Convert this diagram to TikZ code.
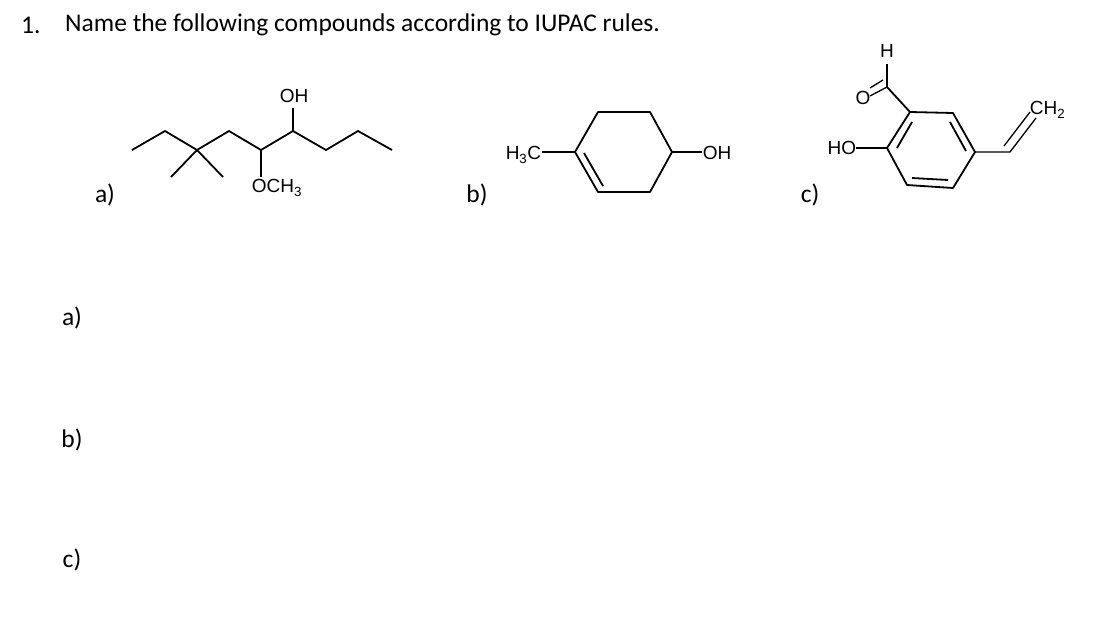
\documentclass[tikz,border=0pt]{standalone}
\usepackage{fontspec}
\setmainfont{Carlito}
\newfontfamily\chem{Liberation Sans}
\begin{document}
\begin{tikzpicture}[x=1pt,y=-1pt,line width=1.8pt,line join=round,
 lab/.style={font=\fontsize{25.5}{30}\selectfont},
 atom/.style={font=\chem\fontsize{19}{22}\selectfont,inner sep=1pt}]
\useasboundingbox (0,0) rectangle (1110,616);
\node[lab,anchor=west] (n1) at (17,25) {1.};
\node[lab,anchor=west] (t) at (61,25) {Name the following compounds according to IUPAC rules.};
% molecule a
\draw (132,150) -- (165,131) -- (197,150) -- (229,131) -- (261,150) -- (293,131) -- (326,150) -- (358,131) -- (392,150);
\draw (197,150) -- (171,177);
\draw (197,150) -- (223,177);
\draw (261,150) -- (261,177);
\draw (293,131) -- (293,108);
\node[atom] (oh1) at (294,96) {OH};
\node[atom,anchor=west] (och) at (250,188) {OCH\textsubscript{3}};
\node[lab] (la) at (105,195) {a)};
% molecule b
\draw (575,152) -- (598,112) -- (650,112) -- (672,152) -- (650,192) -- (598,192) -- cycle;
\draw (584,153) -- (603,186);
\draw (542,152) -- (575,152);
\draw (672,152) -- (702,152);
\node[atom,anchor=east] (h3c) at (543,155) {H\textsubscript{3}C};
\node[atom,anchor=west] (oh2) at (701,153) {OH};
\node[lab] (lb) at (477,195) {b)};
% molecule c
\draw (910,112) -- (953,113) -- (975,152) -- (953,188) -- (907,185) -- (887,148) -- cycle;
\draw (912,122) -- (897,148);
\draw (950,122) -- (966,151);
\draw (912,178) -- (948,180);
\draw (910,112) -- (887,87) -- (887,64);
\draw[line width=1.3pt] (887,87) -- (870,96);
\draw[line width=1.3pt] (883,80) -- (870,88);
\node[atom] (o) at (863,98) {O};
\node[atom] (h) at (887,51) {H};
\draw (856,148) -- (887,148);
\node[atom,anchor=east] (ho) at (858,148) {HO};
\draw[line width=1.3pt] (975,152) -- (1010,152) -- (1036,118);
\draw[line width=1.3pt] (1004,146) -- (1030,112);
\node[atom,anchor=west] (ch2) at (1028,110) {CH\textsubscript{2}};
\node[lab] (lc) at (810,195) {c)};
% answer labels
\node[lab] (aa) at (72,318) {a)};
\node[lab] (bb) at (72,440) {b)};
\node[lab] (cc) at (72,560) {c)};
\end{tikzpicture}
\end{document}
